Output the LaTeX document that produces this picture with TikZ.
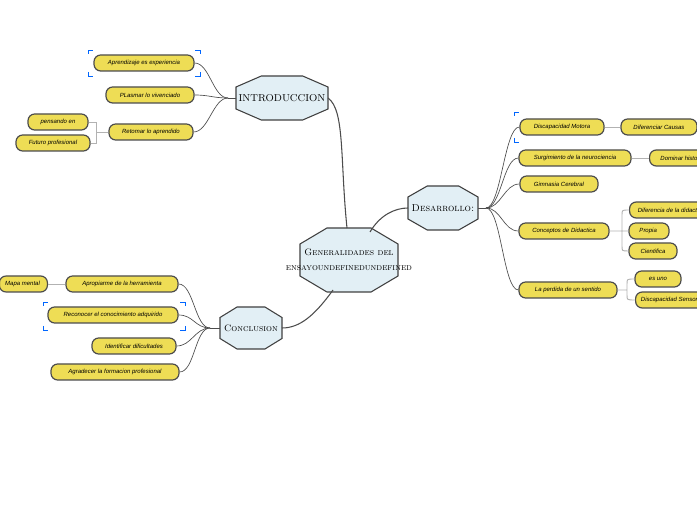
\documentclass[tikz,border=0pt]{standalone}
\usepackage{fontspec}
\setsansfont{Liberation Sans}
\usetikzlibrary{shapes.geometric,calc}
\definecolor{leafc}{HTML}{EEDD55}
\definecolor{hexc}{HTML}{E2EFF5}
\begin{document}
\begin{tikzpicture}[x=0.75pt,y=-0.75pt,
 leaf/.style={rounded corners=5pt,draw=black!70,fill=leafc,line width=0.9pt,font=\sffamily\itshape\fontsize{4.5}{5}\selectfont,minimum height=12pt,inner sep=1pt},
 br/.style={black!70,line width=0.5pt},
 gr/.style={black!30,line width=0.7pt},
 sel/.style={blue!60!cyan,line width=0.6pt}]
\useasboundingbox (0,0) rectangle (697,520);
\clip (0,0) rectangle (697,520);
\def\hex#1#2#3#4#5{\draw[draw=black!75,fill=hexc,line width=0.8pt] (#2-#4,#3-#5*0.5) -- (#2-#4*0.45,#3-#5) -- (#2+#4*0.45,#3-#5) -- (#2+#4,#3-#5*0.5) -- (#2+#4,#3+#5*0.5) -- (#2+#4*0.45,#3+#5) -- (#2-#4*0.45,#3+#5) -- (#2-#4,#3+#5*0.5) -- cycle; \coordinate (#1) at (#2,#3);}
\hex{c}{349}{260}{49}{32}
\hex{intro}{282}{98}{46}{22}
\hex{des}{443}{208}{35}{22}
\hex{con}{251}{328}{31}{21}
\node[font=\scshape\fontsize{7}{11}\selectfont,align=center] (ct) at (c) {Generalidades del\\ensayoundefinedundefined};
\node[font=\fontsize{7.5}{8}\selectfont] (it) at (intro) {INTRODUCCION};
\node[font=\scshape\fontsize{7.5}{8}\selectfont] (dt) at (des) {Desarrollo:};
\node[font=\scshape\fontsize{7}{8}\selectfont] (cot) at (con) {Conclusion};
\node[leaf,minimum width=100pt*0.75] (a1) at (144,63) {Aprendizaje es experiencia};
\node[leaf,minimum width=88pt*0.75] (a2) at (150,95) {PLasmar lo vivenciado};
\node[leaf,minimum width=84pt*0.75] (a3) at (151,132) {Retomar lo aprendido};
\node[leaf,minimum width=60pt*0.75] (a31) at (58,122) {pensando en};
\node[leaf,minimum width=74pt*0.75] (a32) at (53,143) {Futuro profesional};
\node[leaf,minimum width=84pt*0.75] (d1) at (562,127) {Discapacidad Motora};
\node[leaf,minimum width=76pt*0.75] (d11) at (659,127) {Diferenciar Causas};
\node[leaf,minimum width=112pt*0.75] (d2) at (575,158) {Surgimiento de la neurociencia};
\node[leaf,minimum width=62pt*0.75,anchor=west] (d21) at (649,158) {\ \ Dominar historia};
\node[leaf,minimum width=78pt*0.75] (d3) at (559,184) {Gimnasia Cerebral};
\node[leaf,minimum width=90pt*0.75] (d4) at (564,231) {Conceptos de Didactica};
\node[leaf,anchor=west,minimum width=80pt*0.75] (d41) at (629,210) {\ \ Diferencia de la didactica};
\node[leaf,minimum width=40pt*0.75] (d42) at (649,231) {Propia\ \ };
\node[leaf,minimum width=48pt*0.75] (d43) at (653,251) {Cientifica};
\node[leaf,minimum width=98pt*0.75] (d5) at (568,290) {La perdida de un sentido};
\node[leaf,minimum width=46pt*0.75] (d51) at (658,279) {es uno};
\node[leaf,anchor=west,minimum width=70pt*0.75] (d52) at (635,300) {\ \ Discapacidad Sensorial};
\node[leaf,minimum width=112pt*0.75] (k1) at (122,284) {Apropiarme de la herramienta};
\node[leaf,anchor=east,minimum width=48pt*0.75] (k11) at (48,284) {Mapa mental\ \ };
\node[leaf,minimum width=130pt*0.75] (k2) at (113,315) {Reconocer el conocimiento adquirido};
\node[leaf,minimum width=84pt*0.75] (k3) at (134,346) {Identificar dificultades};
\node[leaf,minimum width=128pt*0.75] (k4) at (115,372) {Agradecer la formacion profesional};
\draw[br,line width=0.8pt] (347,228) .. controls (340,160) and (345,110) .. (328,98);
\draw[br,line width=0.8pt] (370,232) .. controls (380,215) and (395,208) .. (408,208);
\draw[br,line width=0.8pt] (333,290) .. controls (315,315) and (300,328) .. (282,328);
\coordinate (ih) at (228,98);
\draw[br] (236,98) -- (ih);
\foreach \n in {a1,a2,a3} \draw[br] (ih) .. controls ($(ih)+(-15,0)$) and ($(\n.east)+(15,0)$) .. (\n.east);
\draw[gr] (a3.west) -- (96,132) -- (96,122) -- (a31.east) (96,132) -- (96,143) -- (a32.east);
\coordinate (dh) at (486,208);
\draw[br] (478,208) -- (dh);
\foreach \n in {d1,d2,d3,d4,d5} \draw[br] (dh) .. controls ($(dh)+(15,0)$) and ($(\n.west)+(-15,0)$) .. (\n.west);
\draw[gr] (d1.east) -- (d11.west) (d2.east) -- (d21.west);
\draw[gr] (d4.east) -- (622,231) -- (622,215) .. controls (622,210) .. (d41.west) (622,231) -- (d42.west) (622,231) -- (622,246) .. controls (622,251) .. (d43.west);
\draw[gr] (d5.east) -- (627,290) -- (627,284) .. controls (627,279) .. (d51.west) (627,290) -- (627,295) .. controls (627,300) .. (d52.west);
\coordinate (kh) at (210,328);
\draw[br] (220,328) -- (kh);
\foreach \n in {k1,k2,k3,k4} \draw[br] (kh) .. controls ($(kh)+(-15,0)$) and ($(\n.east)+(15,0)$) .. (\n.east);
\draw[gr] (k1.west) -- (k11.east);
\draw[sel] (88,54) -- (88,50) -- (93,50) (195,50) -- (200,50) -- (200,54) (88,72) -- (88,76) -- (93,76) (195,76) -- (200,76) -- (200,72);
\draw[sel] (514,116) -- (514,112) -- (519,112) (514,138) -- (514,142) -- (519,142);
\draw[sel] (43,306) -- (43,302) -- (48,302) (180,302) -- (185,302) -- (185,306) (43,326) -- (43,330) -- (48,330) (180,330) -- (185,330) -- (185,326);
\end{tikzpicture}
\end{document}
